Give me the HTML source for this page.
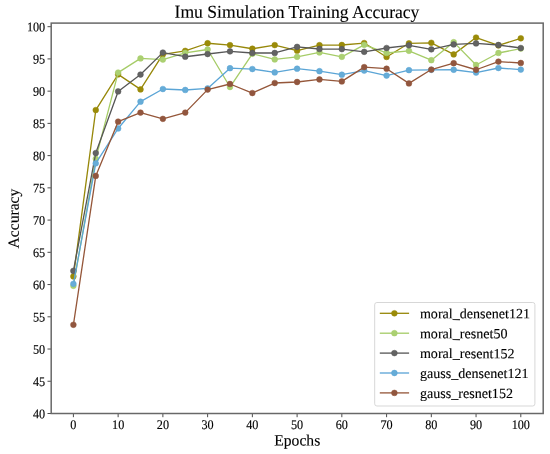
<!DOCTYPE html>
<html lang="en">
<head>
<meta charset="utf-8">
<title>Imu Simulation Training Accuracy</title>
<style>
html,body{margin:0;padding:0;background:#fff;}
body{width:550px;height:454px;overflow:hidden;}
svg{display:block;}
text{font-family:"Liberation Serif", "Times New Roman", serif;fill:#000;stroke:#000;stroke-width:0.12px;}
</style>
</head>
<body>
<svg width="550" height="454" viewBox="0 0 550 454">
<rect x="0" y="0" width="550" height="454" fill="#ffffff"/>
<text transform="translate(297.0,17.9) rotate(0.03) scale(1,1.035)" font-size="17.6" text-anchor="middle">Imu Simulation Training Accuracy</text>
<defs><clipPath id="ax"><rect x="51.2" y="23.1" width="492.0" height="390.4"/></clipPath></defs>
<g clip-path="url(#ax)">
<polyline points="73.40,276.44 95.77,110.04 118.14,74.39 140.51,89.41 162.88,54.40 185.25,50.86 207.62,43.25 229.99,45.12 252.36,48.73 274.73,45.12 297.10,50.66 319.47,45.18 341.84,44.99 364.21,43.06 386.58,56.98 408.95,43.31 431.32,42.80 453.69,54.40 476.06,37.58 498.43,45.38 520.80,38.28" fill="none" stroke="#97880a" stroke-width="1.32" stroke-linejoin="round" stroke-linecap="round"/>
<g fill="#9b8b08" stroke="#97880a" stroke-width="0.50"><circle cx="73.40" cy="276.44" r="2.88"/><circle cx="95.77" cy="110.04" r="2.88"/><circle cx="118.14" cy="74.39" r="2.88"/><circle cx="140.51" cy="89.41" r="2.88"/><circle cx="162.88" cy="54.40" r="2.88"/><circle cx="185.25" cy="50.86" r="2.88"/><circle cx="207.62" cy="43.25" r="2.88"/><circle cx="229.99" cy="45.12" r="2.88"/><circle cx="252.36" cy="48.73" r="2.88"/><circle cx="274.73" cy="45.12" r="2.88"/><circle cx="297.10" cy="50.66" r="2.88"/><circle cx="319.47" cy="45.18" r="2.88"/><circle cx="341.84" cy="44.99" r="2.88"/><circle cx="364.21" cy="43.06" r="2.88"/><circle cx="386.58" cy="56.98" r="2.88"/><circle cx="408.95" cy="43.31" r="2.88"/><circle cx="431.32" cy="42.80" r="2.88"/><circle cx="453.69" cy="54.40" r="2.88"/><circle cx="476.06" cy="37.58" r="2.88"/><circle cx="498.43" cy="45.38" r="2.88"/><circle cx="520.80" cy="38.28" r="2.88"/></g>
<polyline points="73.40,285.85 95.77,158.84 118.14,72.58 140.51,58.40 162.88,59.56 185.25,52.79 207.62,49.50 229.99,87.02 252.36,53.76 274.73,59.43 297.10,56.85 319.47,52.47 341.84,56.85 364.21,44.86 386.58,52.98 408.95,50.86 431.32,60.20 453.69,42.15 476.06,64.98 498.43,52.98 520.80,48.60" fill="none" stroke="#a6cc68" stroke-width="1.32" stroke-linejoin="round" stroke-linecap="round"/>
<g fill="#abd072" stroke="#a6cc68" stroke-width="0.50"><circle cx="73.40" cy="285.85" r="2.88"/><circle cx="95.77" cy="158.84" r="2.88"/><circle cx="118.14" cy="72.58" r="2.88"/><circle cx="140.51" cy="58.40" r="2.88"/><circle cx="162.88" cy="59.56" r="2.88"/><circle cx="185.25" cy="52.79" r="2.88"/><circle cx="207.62" cy="49.50" r="2.88"/><circle cx="229.99" cy="87.02" r="2.88"/><circle cx="252.36" cy="53.76" r="2.88"/><circle cx="274.73" cy="59.43" r="2.88"/><circle cx="297.10" cy="56.85" r="2.88"/><circle cx="319.47" cy="52.47" r="2.88"/><circle cx="341.84" cy="56.85" r="2.88"/><circle cx="364.21" cy="44.86" r="2.88"/><circle cx="386.58" cy="52.98" r="2.88"/><circle cx="408.95" cy="50.86" r="2.88"/><circle cx="431.32" cy="60.20" r="2.88"/><circle cx="453.69" cy="42.15" r="2.88"/><circle cx="476.06" cy="64.98" r="2.88"/><circle cx="498.43" cy="52.98" r="2.88"/><circle cx="520.80" cy="48.60" r="2.88"/></g>
<polyline points="73.40,270.89 95.77,153.04 118.14,91.41 140.51,74.58 162.88,52.60 185.25,56.72 207.62,54.02 229.99,51.37 252.36,52.98 274.73,52.98 297.10,46.86 319.47,48.99 341.84,49.12 364.21,51.82 386.58,48.02 408.95,45.31 431.32,49.37 453.69,44.41 476.06,43.38 498.43,44.99 520.80,48.02" fill="none" stroke="#575757" stroke-width="1.32" stroke-linejoin="round" stroke-linecap="round"/>
<g fill="#636363" stroke="#575757" stroke-width="0.50"><circle cx="73.40" cy="270.89" r="2.88"/><circle cx="95.77" cy="153.04" r="2.88"/><circle cx="118.14" cy="91.41" r="2.88"/><circle cx="140.51" cy="74.58" r="2.88"/><circle cx="162.88" cy="52.60" r="2.88"/><circle cx="185.25" cy="56.72" r="2.88"/><circle cx="207.62" cy="54.02" r="2.88"/><circle cx="229.99" cy="51.37" r="2.88"/><circle cx="252.36" cy="52.98" r="2.88"/><circle cx="274.73" cy="52.98" r="2.88"/><circle cx="297.10" cy="46.86" r="2.88"/><circle cx="319.47" cy="48.99" r="2.88"/><circle cx="341.84" cy="49.12" r="2.88"/><circle cx="364.21" cy="51.82" r="2.88"/><circle cx="386.58" cy="48.02" r="2.88"/><circle cx="408.95" cy="45.31" r="2.88"/><circle cx="431.32" cy="49.37" r="2.88"/><circle cx="453.69" cy="44.41" r="2.88"/><circle cx="476.06" cy="43.38" r="2.88"/><circle cx="498.43" cy="44.99" r="2.88"/><circle cx="520.80" cy="48.02" r="2.88"/></g>
<polyline points="73.40,283.85 95.77,163.36 118.14,128.48 140.51,101.66 162.88,89.02 185.25,89.99 207.62,88.44 229.99,68.20 252.36,69.04 274.73,72.39 297.10,68.71 319.47,71.16 341.84,74.71 364.21,70.58 386.58,75.61 408.95,70.13 431.32,69.87 453.69,69.75 476.06,72.58 498.43,68.01 520.80,69.62" fill="none" stroke="#5ba5d6" stroke-width="1.32" stroke-linejoin="round" stroke-linecap="round"/>
<g fill="#66acd7" stroke="#5ba5d6" stroke-width="0.50"><circle cx="73.40" cy="283.85" r="2.88"/><circle cx="95.77" cy="163.36" r="2.88"/><circle cx="118.14" cy="128.48" r="2.88"/><circle cx="140.51" cy="101.66" r="2.88"/><circle cx="162.88" cy="89.02" r="2.88"/><circle cx="185.25" cy="89.99" r="2.88"/><circle cx="207.62" cy="88.44" r="2.88"/><circle cx="229.99" cy="68.20" r="2.88"/><circle cx="252.36" cy="69.04" r="2.88"/><circle cx="274.73" cy="72.39" r="2.88"/><circle cx="297.10" cy="68.71" r="2.88"/><circle cx="319.47" cy="71.16" r="2.88"/><circle cx="341.84" cy="74.71" r="2.88"/><circle cx="364.21" cy="70.58" r="2.88"/><circle cx="386.58" cy="75.61" r="2.88"/><circle cx="408.95" cy="70.13" r="2.88"/><circle cx="431.32" cy="69.87" r="2.88"/><circle cx="453.69" cy="69.75" r="2.88"/><circle cx="476.06" cy="72.58" r="2.88"/><circle cx="498.43" cy="68.01" r="2.88"/><circle cx="520.80" cy="69.62" r="2.88"/></g>
<polyline points="73.40,324.79 95.77,175.93 118.14,121.64 140.51,112.62 162.88,118.87 185.25,112.62 207.62,89.60 229.99,83.99 252.36,93.02 274.73,83.03 297.10,82.00 319.47,79.42 341.84,81.42 364.21,67.10 386.58,68.71 408.95,83.41 431.32,69.55 453.69,63.17 476.06,69.75 498.43,61.62 520.80,62.98" fill="none" stroke="#95573a" stroke-width="1.32" stroke-linejoin="round" stroke-linecap="round"/>
<g fill="#91563f" stroke="#95573a" stroke-width="0.50"><circle cx="73.40" cy="324.79" r="2.88"/><circle cx="95.77" cy="175.93" r="2.88"/><circle cx="118.14" cy="121.64" r="2.88"/><circle cx="140.51" cy="112.62" r="2.88"/><circle cx="162.88" cy="118.87" r="2.88"/><circle cx="185.25" cy="112.62" r="2.88"/><circle cx="207.62" cy="89.60" r="2.88"/><circle cx="229.99" cy="83.99" r="2.88"/><circle cx="252.36" cy="93.02" r="2.88"/><circle cx="274.73" cy="83.03" r="2.88"/><circle cx="297.10" cy="82.00" r="2.88"/><circle cx="319.47" cy="79.42" r="2.88"/><circle cx="341.84" cy="81.42" r="2.88"/><circle cx="364.21" cy="67.10" r="2.88"/><circle cx="386.58" cy="68.71" r="2.88"/><circle cx="408.95" cy="83.41" r="2.88"/><circle cx="431.32" cy="69.55" r="2.88"/><circle cx="453.69" cy="63.17" r="2.88"/><circle cx="476.06" cy="69.75" r="2.88"/><circle cx="498.43" cy="61.62" r="2.88"/><circle cx="520.80" cy="62.98" r="2.88"/></g>
</g>
<g stroke="#2a2a2a" stroke-width="0.85">
<line x1="73.40" y1="413.50" x2="73.40" y2="417.20"/><line x1="118.14" y1="413.50" x2="118.14" y2="417.20"/><line x1="162.88" y1="413.50" x2="162.88" y2="417.20"/><line x1="207.62" y1="413.50" x2="207.62" y2="417.20"/><line x1="252.36" y1="413.50" x2="252.36" y2="417.20"/><line x1="297.10" y1="413.50" x2="297.10" y2="417.20"/><line x1="341.84" y1="413.50" x2="341.84" y2="417.20"/><line x1="386.58" y1="413.50" x2="386.58" y2="417.20"/><line x1="431.32" y1="413.50" x2="431.32" y2="417.20"/><line x1="476.06" y1="413.50" x2="476.06" y2="417.20"/><line x1="520.80" y1="413.50" x2="520.80" y2="417.20"/><line x1="47.50" y1="413.50" x2="51.20" y2="413.50"/><line x1="47.50" y1="381.26" x2="51.20" y2="381.26"/><line x1="47.50" y1="349.03" x2="51.20" y2="349.03"/><line x1="47.50" y1="316.80" x2="51.20" y2="316.80"/><line x1="47.50" y1="284.56" x2="51.20" y2="284.56"/><line x1="47.50" y1="252.32" x2="51.20" y2="252.32"/><line x1="47.50" y1="220.09" x2="51.20" y2="220.09"/><line x1="47.50" y1="187.85" x2="51.20" y2="187.85"/><line x1="47.50" y1="155.62" x2="51.20" y2="155.62"/><line x1="47.50" y1="123.38" x2="51.20" y2="123.38"/><line x1="47.50" y1="91.15" x2="51.20" y2="91.15"/><line x1="47.50" y1="58.92" x2="51.20" y2="58.92"/><line x1="47.50" y1="26.68" x2="51.20" y2="26.68"/>
</g>
<rect x="51.20" y="23.10" width="492.00" height="390.40" fill="none" stroke="#686868" stroke-width="1.50"/>
<g font-size="12.2" text-anchor="middle">
<text transform="translate(73.40,428.9) rotate(0.03) scale(1,1.08)">0</text><text transform="translate(118.14,428.9) rotate(0.03) scale(1,1.08)">10</text><text transform="translate(162.88,428.9) rotate(0.03) scale(1,1.08)">20</text><text transform="translate(207.62,428.9) rotate(0.03) scale(1,1.08)">30</text><text transform="translate(252.36,428.9) rotate(0.03) scale(1,1.08)">40</text><text transform="translate(297.10,428.9) rotate(0.03) scale(1,1.08)">50</text><text transform="translate(341.84,428.9) rotate(0.03) scale(1,1.08)">60</text><text transform="translate(386.58,428.9) rotate(0.03) scale(1,1.08)">70</text><text transform="translate(431.32,428.9) rotate(0.03) scale(1,1.08)">80</text><text transform="translate(476.06,428.9) rotate(0.03) scale(1,1.08)">90</text><text transform="translate(520.80,428.9) rotate(0.03) scale(1,1.08)">100</text>
</g>
<g font-size="12.2" text-anchor="end">
<text transform="translate(45.2,418.20) rotate(0.03) scale(1,1.08)">40</text><text transform="translate(45.2,385.96) rotate(0.03) scale(1,1.08)">45</text><text transform="translate(45.2,353.73) rotate(0.03) scale(1,1.08)">50</text><text transform="translate(45.2,321.50) rotate(0.03) scale(1,1.08)">55</text><text transform="translate(45.2,289.26) rotate(0.03) scale(1,1.08)">60</text><text transform="translate(45.2,257.02) rotate(0.03) scale(1,1.08)">65</text><text transform="translate(45.2,224.79) rotate(0.03) scale(1,1.08)">70</text><text transform="translate(45.2,192.55) rotate(0.03) scale(1,1.08)">75</text><text transform="translate(45.2,160.32) rotate(0.03) scale(1,1.08)">80</text><text transform="translate(45.2,128.08) rotate(0.03) scale(1,1.08)">85</text><text transform="translate(45.2,95.85) rotate(0.03) scale(1,1.08)">90</text><text transform="translate(45.2,63.62) rotate(0.03) scale(1,1.08)">95</text><text transform="translate(45.2,31.38) rotate(0.03) scale(1,1.08)">100</text>
</g>
<text transform="translate(297.2,445.6) rotate(0.03)" font-size="15.65" text-anchor="middle">Epochs</text>
<text transform="translate(18.7,218.6) rotate(-89.97)" font-size="15.6" text-anchor="middle">Accuracy</text>
<rect x="374.7" y="302.5" width="160.2" height="103.5" rx="2.2" ry="2.2" fill="#ffffff" fill-opacity="0.8" stroke="#d2d2d2" stroke-width="0.9"/>
<line x1="379.8" y1="313.30" x2="409.1" y2="313.30" stroke="#97880a" stroke-width="1.32"/><circle cx="394.4" cy="313.30" r="2.88" fill="#9b8b08" stroke="#97880a" stroke-width="0.50"/><text transform="translate(419.9,318.30) rotate(0.03)" font-size="14.08">moral_densenet121</text>
<line x1="379.8" y1="333.20" x2="409.1" y2="333.20" stroke="#a6cc68" stroke-width="1.32"/><circle cx="394.4" cy="333.20" r="2.88" fill="#abd072" stroke="#a6cc68" stroke-width="0.50"/><text transform="translate(419.9,338.20) rotate(0.03)" font-size="14.08">moral_resnet50</text>
<line x1="379.8" y1="353.10" x2="409.1" y2="353.10" stroke="#575757" stroke-width="1.32"/><circle cx="394.4" cy="353.10" r="2.88" fill="#636363" stroke="#575757" stroke-width="0.50"/><text transform="translate(419.9,358.10) rotate(0.03)" font-size="14.08">moral_resent152</text>
<line x1="379.8" y1="373.00" x2="409.1" y2="373.00" stroke="#5ba5d6" stroke-width="1.32"/><circle cx="394.4" cy="373.00" r="2.88" fill="#66acd7" stroke="#5ba5d6" stroke-width="0.50"/><text transform="translate(419.9,378.00) rotate(0.03)" font-size="14.08">gauss_densenet121</text>
<line x1="379.8" y1="392.90" x2="409.1" y2="392.90" stroke="#95573a" stroke-width="1.32"/><circle cx="394.4" cy="392.90" r="2.88" fill="#91563f" stroke="#95573a" stroke-width="0.50"/><text transform="translate(419.9,397.90) rotate(0.03)" font-size="14.08">gauss_resnet152</text>
</svg>
</body>
</html>
